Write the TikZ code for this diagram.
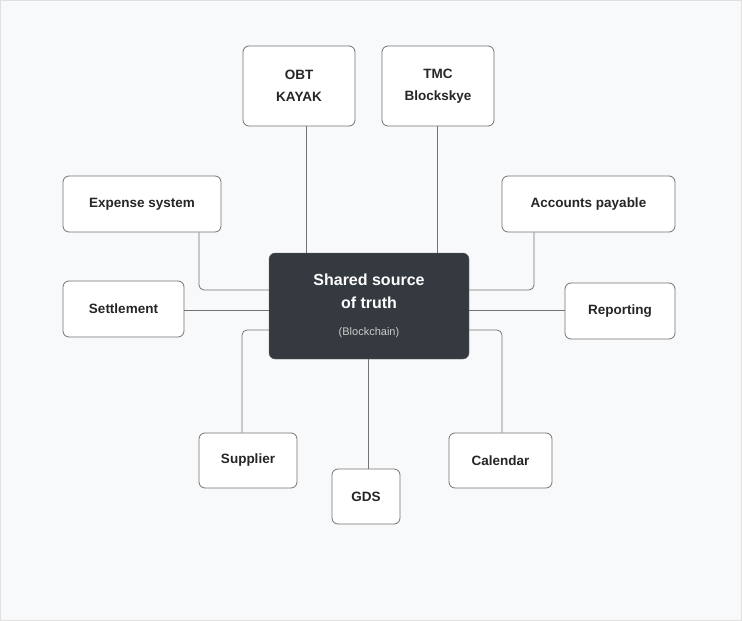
\documentclass[tikz,border=0pt]{standalone}
\usepackage{fontspec}
\setmainfont{Liberation Sans}
\begin{document}
\begin{tikzpicture}[x=1pt,y=-1pt,
  box/.style={draw=black!55,fill=white,rounded corners=6pt,line width=0.8pt,font=\bfseries\fontsize{13.5}{22}\selectfont,text=black!85,align=center,inner sep=0pt},
  ln/.style={draw=black!55,line width=0.8pt,rounded corners=5pt}]
\fill[fill={rgb,255:red,248;green,249;blue,250}] (0,0) rectangle (742,621);
\draw[black!12] (0.5,0.5) rectangle (741.5,620.5);
\node[box,minimum width=112,minimum height=80] (obt) at (299,86) {OBT\\KAYAK};
\node[box,minimum width=112,minimum height=80] (tmc) at (438,86) {TMC\\Blockskye};
\node[box,minimum width=158,minimum height=56] (exp) at (142,204) {Expense system};
\node[box,minimum width=173,minimum height=56] (acc) at (588.5,204) {Accounts payable};
\node[box,minimum width=121,minimum height=56] (set) at (123.5,309) {Settlement};
\node[box,minimum width=110,minimum height=56] (rep) at (620,311) {Reporting};
\node[box,minimum width=98,minimum height=55] (sup) at (248,460.5) {Supplier};
\node[box,minimum width=68,minimum height=55] (gds) at (366,496.5) {GDS};
\node[box,minimum width=103,minimum height=55] (cal) at (500.5,460.5) {Calendar};
\node[draw=black!60,fill={rgb,255:red,53;green,58;blue,64},rounded corners=6pt,minimum width=200,minimum height=106,inner sep=0pt,align=center,text=white,font=\bfseries\fontsize{16}{23}\selectfont] (c) at (369,306)
 {Shared source\\of truth\\[4pt]\mdseries\fontsize{11}{12}\selectfont\color{white!80!black}(Blockchain)};
\draw[ln] (obt.south -| 306,0) -- (c.north -| 306,0);
\draw[ln] (tmc.south -| 437,0) -- (c.north -| 437,0);
\draw[ln] (exp.south -| 199,0) |- (c.west |- 0,290);
\draw[ln] (acc.south -| 534,0) |- (c.east |- 0,290);
\draw[ln] (set.east |- 0,310) -- (c.west |- 0,310);
\draw[ln] (rep.west |- 0,310) -- (c.east |- 0,310);
\draw[ln] (sup.north -| 242,0) |- (c.west |- 0,330);
\draw[ln] (gds.north -| 368,0) -- (c.south -| 368,0);
\draw[ln] (cal.north -| 502,0) |- (c.east |- 0,330);
\end{tikzpicture}
\end{document}
